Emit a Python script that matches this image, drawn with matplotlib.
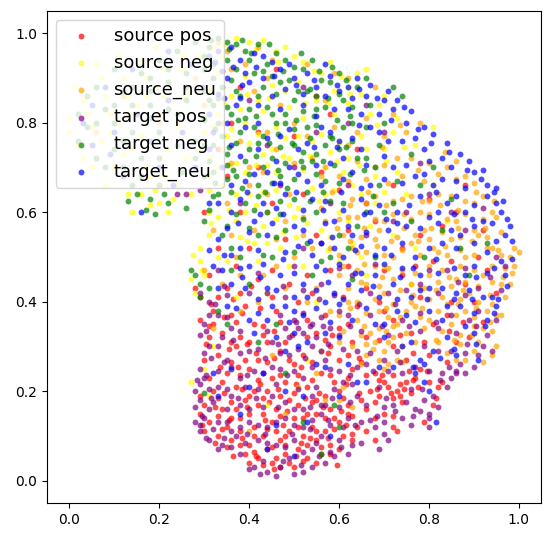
import numpy as np
import matplotlib
matplotlib.use("Agg")
import matplotlib.pyplot as plt

# pontos (coordenadas normalizadas do embedding, 0..1)
source_pos = np.array([
    (0.42,0.05),(0.45,0.04),(0.48,0.06),(0.50,0.03),(0.53,0.05),(0.56,0.06),(0.44,0.07),(0.51,0.07),
    (0.36,0.09),(0.40,0.08),(0.43,0.10),(0.47,0.09),(0.52,0.10),(0.55,0.09),(0.58,0.08),(0.61,0.10),(0.33,0.10),(0.49,0.11),
    (0.31,0.13),(0.35,0.12),(0.38,0.14),(0.41,0.12),(0.45,0.13),(0.50,0.14),(0.54,0.12),(0.57,0.14),(0.60,0.13),(0.64,0.12),(0.43,0.15),
    (0.30,0.17),(0.34,0.16),(0.39,0.18),(0.42,0.17),(0.46,0.16),(0.51,0.17),(0.55,0.18),(0.58,0.16),(0.62,0.17),(0.66,0.16),(0.70,0.15),
    (0.32,0.20),(0.37,0.21),(0.44,0.20),(0.48,0.22),(0.53,0.21),(0.60,0.20),(0.67,0.20),(0.69,0.19),(0.71,0.21),(0.73,0.20),(0.70,0.22),(0.75,0.22),
    (0.35,0.24),(0.40,0.25),(0.45,0.23),(0.50,0.26),(0.56,0.24),(0.63,0.25),(0.68,0.24),(0.78,0.25),(0.82,0.21),
    (0.33,0.28),(0.37,0.30),(0.42,0.27),(0.47,0.29),(0.52,0.28),(0.58,0.30),(0.62,0.28),(0.72,0.30),(0.80,0.28),
    (0.34,0.33),(0.38,0.32),(0.41,0.35),(0.44,0.31),(0.55,0.33),(0.60,0.34),(0.66,0.32),(0.76,0.33),(0.86,0.31),
    (0.32,0.38),(0.36,0.37),(0.39,0.39),(0.46,0.38),(0.51,0.40),(0.57,0.37),(0.64,0.39),(0.70,0.38),(0.84,0.37),(0.90,0.40),
    (0.29,0.41),(0.35,0.43),(0.42,0.45),(0.49,0.44),(0.58,0.47),(0.66,0.43),(0.74,0.46),(0.81,0.49),(0.88,0.44),(0.93,0.47),
    (0.40,0.52),(0.55,0.55),(0.68,0.58),(0.78,0.55),(0.86,0.60),(0.45,0.62),(0.60,0.65),(0.35,0.68),(0.72,0.66),
    (0.42,0.78),(0.58,0.82),(0.38,0.88),(0.30,0.60),
    (0.39,0.06),(0.46,0.11),(0.53,0.15),(0.41,0.20),(0.57,0.11),(0.37,0.16),(0.49,0.18),(0.59,0.22),(0.62,0.15),(0.47,0.03),
    (0.40,0.04),(0.43,0.035),(0.46,0.05),(0.49,0.04),(0.52,0.045),(0.55,0.04),(0.58,0.06),
    (0.35,0.075),(0.38,0.08),(0.41,0.065),(0.45,0.075),(0.48,0.08),(0.53,0.08),(0.56,0.075),(0.60,0.07),(0.63,0.09),
    (0.30,0.11),(0.34,0.115),(0.38,0.11),(0.41,0.10),(0.44,0.115),(0.48,0.10),(0.51,0.12),(0.55,0.11),(0.59,0.115),(0.63,0.105),(0.66,0.11),
    (0.29,0.15),(0.33,0.145),(0.36,0.14),(0.40,0.15),(0.47,0.145),(0.52,0.14),(0.55,0.15),(0.59,0.14),(0.63,0.145),(0.68,0.14),(0.72,0.145),
    (0.29,0.19),(0.33,0.185),(0.36,0.175),(0.40,0.19),(0.43,0.185),(0.47,0.19),(0.50,0.195),(0.54,0.175),(0.57,0.19),(0.61,0.185),
    (0.65,0.18),(0.68,0.175),(0.72,0.185),(0.74,0.175),(0.76,0.195),
    (0.31,0.23),(0.34,0.22),(0.38,0.235),(0.42,0.225),(0.47,0.235),(0.51,0.235),(0.54,0.225),(0.58,0.235),(0.62,0.23),(0.66,0.235),
    (0.69,0.225),(0.72,0.235),(0.77,0.23),(0.80,0.22),
    (0.30,0.27),(0.36,0.265),(0.39,0.27),(0.44,0.265),(0.49,0.27),(0.54,0.265),(0.60,0.27),(0.65,0.265),(0.75,0.27),(0.84,0.265),
    (0.31,0.32),(0.36,0.31),(0.40,0.31),(0.43,0.325),(0.48,0.31),(0.53,0.32),(0.57,0.315),(0.63,0.31),(0.69,0.315),(0.79,0.31),(0.89,0.32),
    (0.32,0.35),(0.37,0.355),(0.43,0.345),(0.47,0.355),(0.53,0.36),(0.62,0.35),(0.72,0.36),(0.81,0.35),(0.92,0.355),
    (0.28,0.43),(0.33,0.41),(0.38,0.42),(0.45,0.41),(0.54,0.42),(0.61,0.41),(0.69,0.40),(0.78,0.41),(0.85,0.40),(0.95,0.42),
    (0.31,0.46),(0.37,0.48),(0.45,0.47),(0.53,0.46),(0.62,0.48),(0.70,0.47),(0.77,0.48),(0.85,0.49),(0.91,0.50),
    (0.33,0.52),(0.48,0.54),(0.62,0.56),(0.74,0.52),(0.83,0.57),(0.92,0.56),(0.38,0.60),(0.52,0.64),(0.66,0.62),(0.80,0.63),
    (0.42,0.70),(0.56,0.69),(0.88,0.66),(0.36,0.80),(0.50,0.77),(0.64,0.74),(0.46,0.92),(0.55,0.86),(0.33,0.74),
    (0.29,0.36),(0.31,0.345),
    (0.415,0.055),(0.455,0.025),(0.505,0.055),(0.535,0.095),(0.575,0.095),(0.615,0.125),(0.385,0.095),(0.355,0.135),(0.325,0.165),
    (0.395,0.165),(0.445,0.175),(0.485,0.155),(0.525,0.185),(0.565,0.165),(0.605,0.155),(0.645,0.195),(0.685,0.205),(0.715,0.195),
    (0.735,0.215),(0.695,0.235),(0.345,0.195),(0.385,0.205),(0.425,0.215),(0.465,0.205),(0.505,0.215),(0.555,0.195),(0.615,0.215),
    (0.335,0.255),(0.375,0.255),(0.415,0.285),(0.455,0.275),(0.515,0.255),(0.575,0.285),(0.645,0.275),(0.355,0.295),(0.395,0.305),
    (0.455,0.335),(0.495,0.325),(0.585,0.325),(0.345,0.365),(0.385,0.375),(0.425,0.385),(0.305,0.305),(0.315,0.395),(0.365,0.405),
    (0.405,0.435),(0.735,0.325),(0.765,0.285),(0.795,0.245),(0.815,0.185),(0.845,0.335),(0.875,0.355),(0.295,0.125),(0.325,0.085),
    (0.365,0.055),(0.435,0.135),(0.475,0.125),(0.515,0.085),(0.595,0.035),
    (0.68,0.09),(0.72,0.12),(0.79,0.13),(0.81,0.17),(0.83,0.22),(0.745,0.205),(0.765,0.225),(0.755,0.245),(0.735,0.19),(0.775,0.21),
    (0.73,0.11),
])

source_neg = np.array([
    (0.34,0.95),(0.40,0.98),(0.46,0.96),(0.50,0.95),(0.36,0.86),(0.42,0.85),(0.48,0.87),(0.56,0.91),(0.62,0.88),(0.66,0.92),
    (0.33,0.82),(0.39,0.80),(0.46,0.79),(0.52,0.81),(0.59,0.82),(0.69,0.84),(0.31,0.72),(0.37,0.71),(0.43,0.73),(0.49,0.72),
    (0.54,0.76),(0.62,0.72),(0.70,0.74),(0.34,0.66),(0.40,0.64),(0.46,0.65),(0.51,0.61),(0.57,0.64),(0.63,0.66),(0.31,0.60),
    (0.37,0.58),(0.43,0.57),(0.50,0.59),(0.56,0.56),(0.60,0.60),(0.68,0.62),(0.75,0.64),(0.29,0.52),(0.33,0.50),(0.41,0.53),
    (0.47,0.52),(0.65,0.50),(0.30,0.46),(0.27,0.45),(0.44,0.42),(0.52,0.48),(0.72,0.55),(0.81,0.79),(0.27,0.22),(0.31,0.19),
    (0.46,0.69),(0.35,0.77),
    (0.32,0.97),(0.37,0.99),(0.43,0.985),(0.48,0.97),(0.52,0.935),(0.58,0.935),(0.64,0.91),(0.33,0.91),(0.39,0.905),(0.45,0.885),
    (0.51,0.89),(0.59,0.87),(0.65,0.865),(0.70,0.86),(0.31,0.875),(0.38,0.83),(0.43,0.825),(0.49,0.835),(0.55,0.85),(0.62,0.845),
    (0.67,0.82),(0.73,0.81),(0.32,0.79),(0.36,0.785),(0.42,0.775),(0.48,0.765),(0.56,0.775),(0.60,0.755),(0.65,0.77),(0.72,0.78),
    (0.77,0.75),(0.34,0.74),(0.40,0.755),(0.45,0.74),(0.51,0.77),(0.58,0.735),(0.66,0.74),(0.33,0.70),(0.39,0.69),(0.44,0.705),
    (0.52,0.695),(0.57,0.70),(0.61,0.69),(0.68,0.68),(0.73,0.69),(0.31,0.65),(0.37,0.64),(0.43,0.645),(0.49,0.615),(0.54,0.655),
    (0.59,0.65),(0.65,0.64),(0.70,0.645),(0.33,0.59),(0.39,0.60),(0.46,0.585),(0.53,0.575),(0.62,0.58),(0.67,0.57),(0.31,0.55),
    (0.38,0.545),(0.44,0.53),(0.58,0.545),(0.63,0.53),(0.29,0.49),(0.35,0.49),(0.42,0.49),(0.28,0.42),(0.37,0.41),(0.49,0.48),
    (0.60,0.49),(0.70,0.48),(0.77,0.52),(0.84,0.58),(0.76,0.44),(0.55,0.40),(0.32,0.30),(0.30,0.25),(0.44,0.17),(0.53,0.27),
    (0.81,0.66),(0.66,0.46),
    (0.345,0.975),(0.415,0.965),(0.465,0.935),(0.545,0.915),(0.605,0.905),(0.625,0.865),(0.575,0.845),(0.525,0.845),(0.445,0.855),
    (0.395,0.865),(0.345,0.845),(0.355,0.705),(0.415,0.705),(0.475,0.725),(0.535,0.725),(0.595,0.715),(0.645,0.705),(0.705,0.715),
    (0.745,0.745),(0.685,0.795),(0.555,0.625),(0.475,0.555),(0.415,0.615),(0.355,0.605),(0.315,0.575),(0.395,0.535),(0.505,0.545),
    (0.575,0.515),(0.275,0.505),(0.295,0.47),
    (0.00,0.78),(0.04,0.82),(0.08,0.86),(0.12,0.90),(0.16,0.94),(0.03,0.72),(0.07,0.76),(0.11,0.80),(0.15,0.84),(0.19,0.88),
    (0.10,0.70),(0.14,0.74),(0.18,0.68),(0.22,0.74),(0.24,0.66),(0.20,0.62),(0.16,0.64),(0.25,0.95),(0.01,0.88),(0.06,0.93),
    (0.27,0.64),
    (0.02,0.75),(0.05,0.79),(0.09,0.82),(0.13,0.86),(0.17,0.90),(0.21,0.92),(0.25,0.92),(0.29,0.95),(0.05,0.70),(0.09,0.78),
    (0.13,0.82),(0.17,0.86),(0.21,0.86),(0.26,0.86),(0.30,0.78),(0.08,0.66),(0.12,0.73),(0.16,0.77),(0.20,0.82),(0.24,0.79),
    (0.29,0.74),(0.13,0.64),(0.17,0.70),(0.21,0.68),(0.26,0.72),(0.14,0.60),(0.18,0.615),(0.22,0.60),(0.19,0.65),(0.23,0.63),
    (0.31,0.68),(0.11,0.95),(0.07,0.90),(0.03,0.85),(0.00,0.81),(0.19,0.97),
])

source_neu = np.array([
    (0.66,0.28),(0.68,0.31),(0.70,0.29),(0.72,0.32),(0.67,0.33),(0.86,0.27),(0.90,0.29),(0.94,0.28),(0.82,0.31),(0.56,0.29),(0.60,0.31),
    (0.64,0.36),(0.69,0.38),(0.73,0.35),(0.77,0.39),(0.80,0.36),(0.85,0.35),(0.88,0.38),(0.92,0.34),(0.95,0.37),(0.58,0.38),(0.62,0.40),
    (0.66,0.44),(0.70,0.42),(0.74,0.47),(0.78,0.43),(0.80,0.46),(0.83,0.41),(0.86,0.45),(0.89,0.42),(0.92,0.46),(0.96,0.44),(0.99,0.48),(0.60,0.46),(0.55,0.43),
    (0.64,0.51),(0.68,0.54),(0.72,0.50),(0.76,0.53),(0.79,0.56),(0.82,0.51),(0.85,0.54),(0.88,0.50),(0.91,0.55),(0.94,0.52),(0.98,0.50),(1.00,0.51),(0.58,0.52),(0.52,0.55),
    (0.62,0.59),(0.66,0.62),(0.70,0.58),(0.74,0.63),(0.78,0.60),(0.82,0.64),(0.86,0.58),(0.90,0.62),(0.94,0.60),(0.56,0.61),(0.48,0.58),(0.44,0.64),
    (0.60,0.68),(0.68,0.70),(0.76,0.72),(0.84,0.70),(0.88,0.68),(0.54,0.72),(0.46,0.74),(0.40,0.70),(0.64,0.78),(0.72,0.82),
    (0.78,0.80),(0.57,0.85),(0.50,0.80),(0.36,0.92),(0.44,0.90),(0.62,0.90),(0.33,0.98),(0.42,0.97),(0.30,0.84),(0.68,0.88),
    (0.42,0.40),(0.38,0.46),(0.46,0.48),(0.34,0.44),(0.51,0.21),(0.30,0.47),(0.36,0.55),
    (0.71,0.26),(0.73,0.27),(0.70,0.25),(0.60,0.18),
    (0.65,0.26),(0.69,0.27),(0.74,0.265),(0.88,0.27),(0.92,0.265),(0.84,0.285),
    (0.63,0.30),(0.66,0.305),(0.71,0.31),(0.74,0.30),(0.77,0.31),(0.87,0.305),(0.91,0.31),(0.95,0.30),
    (0.61,0.335),(0.65,0.325),(0.69,0.34),(0.72,0.345),(0.75,0.33),(0.79,0.34),(0.83,0.335),(0.87,0.325),(0.90,0.345),(0.94,0.335),
    (0.60,0.37),(0.66,0.375),(0.71,0.365),(0.75,0.38),(0.78,0.365),(0.82,0.38),(0.86,0.37),(0.90,0.365),(0.93,0.38),(0.96,0.37),
    (0.64,0.40),(0.68,0.405),(0.72,0.395),(0.76,0.40),(0.80,0.405),(0.84,0.395),(0.87,0.405),(0.91,0.40),(0.94,0.395),(0.97,0.41),
    (0.62,0.43),(0.65,0.445),(0.69,0.435),(0.72,0.45),(0.76,0.44),(0.79,0.43),(0.82,0.445),(0.85,0.435),(0.88,0.445),(0.91,0.435),(0.94,0.445),(0.98,0.44),
    (0.61,0.48),(0.64,0.47),(0.68,0.48),(0.71,0.475),(0.77,0.465),(0.80,0.48),(0.83,0.47),(0.87,0.48),(0.90,0.47),(0.94,0.48),(0.97,0.475),
    (0.60,0.505),(0.63,0.52),(0.66,0.51),(0.70,0.505),(0.74,0.515),(0.78,0.505),(0.81,0.52),(0.84,0.505),(0.87,0.515),(0.90,0.505),(0.93,0.52),(0.96,0.505),(0.99,0.52),
    (0.61,0.55),(0.65,0.545),(0.69,0.56),(0.73,0.545),(0.77,0.55),(0.80,0.54),(0.83,0.555),(0.87,0.545),(0.90,0.56),(0.93,0.545),(0.96,0.555),
    (0.60,0.585),(0.64,0.59),(0.68,0.585),(0.72,0.595),(0.76,0.585),(0.80,0.595),(0.84,0.585),(0.88,0.595),(0.92,0.585),(0.95,0.59),
    (0.63,0.63),(0.68,0.635),(0.72,0.625),(0.76,0.635),(0.80,0.625),(0.85,0.635),(0.88,0.625),(0.92,0.635),
    (0.62,0.67),(0.66,0.675),(0.71,0.665),(0.74,0.68),(0.79,0.67),(0.82,0.685),(0.86,0.675),(0.90,0.665),
    (0.57,0.70),(0.64,0.715),(0.70,0.705),(0.73,0.72),(0.80,0.71),(0.86,0.715),
    (0.50,0.50),(0.54,0.52),(0.46,0.54),(0.41,0.56),(0.44,0.60),(0.52,0.59),(0.57,0.58),(0.49,0.64),(0.40,0.66),(0.35,0.62),
    (0.32,0.56),(0.37,0.50),(0.43,0.46),(0.48,0.43),(0.53,0.40),(0.38,0.38),(0.32,0.34),(0.45,0.28),(0.55,0.24),(0.61,0.21),
    (0.57,0.18),(0.63,0.165),(0.48,0.15),(0.40,0.11),
    (0.35,0.96),(0.39,0.93),(0.45,0.94),(0.53,0.93),(0.59,0.91),(0.47,0.84),(0.41,0.87),(0.34,0.80),(0.38,0.76),(0.44,0.78),
    (0.53,0.77),(0.59,0.79),(0.66,0.81),(0.70,0.77),(0.75,0.78),(0.62,0.75),(0.56,0.68),(0.50,0.71),(0.43,0.69),(0.36,0.71),
    (0.675,0.295),(0.705,0.335),(0.735,0.365),(0.765,0.415),(0.815,0.425),(0.845,0.455),(0.875,0.425),(0.905,0.385),(0.935,0.415),
    (0.965,0.455),(0.985,0.465),(0.955,0.515),(0.925,0.565),(0.895,0.535),(0.865,0.565),(0.835,0.525),(0.805,0.565),(0.775,0.535),
    (0.745,0.565),(0.715,0.535),(0.685,0.525),(0.655,0.565),(0.625,0.535),(0.595,0.565),(0.655,0.485),(0.695,0.455),(0.735,0.425),
    (0.625,0.385),(0.655,0.345),(0.705,0.385),(0.785,0.385),(0.815,0.315),(0.855,0.315),(0.895,0.325),(0.935,0.355),(0.865,0.395),
    (0.745,0.595),(0.785,0.625),(0.825,0.615),(0.865,0.605),(0.905,0.645),(0.945,0.625),(0.705,0.615),(0.665,0.645),(0.625,0.615),
    (0.585,0.645),(0.775,0.695),(0.835,0.735),(0.695,0.745),(0.735,0.795),
    (0.12,0.86),(0.20,0.80),(0.28,0.90),(0.06,0.78),
])

target_pos = np.array([
    (0.46,0.01),(0.41,0.03),(0.44,0.02),(0.52,0.02),(0.57,0.04),(0.49,0.05),(0.38,0.06),(0.54,0.07),
    (0.31,0.09),(0.34,0.08),(0.37,0.10),(0.42,0.09),(0.46,0.08),(0.50,0.09),(0.56,0.10),(0.60,0.09),(0.63,0.08),(0.29,0.11),
    (0.30,0.14),(0.33,0.13),(0.36,0.11),(0.40,0.13),(0.44,0.12),(0.48,0.14),(0.52,0.12),(0.56,0.15),(0.62,0.14),(0.65,0.13),(0.68,0.12),(0.28,0.13),
    (0.29,0.18),(0.31,0.16),(0.36,0.19),(0.40,0.16),(0.45,0.19),(0.50,0.16),(0.54,0.19),(0.57,0.17),(0.64,0.19),(0.72,0.17),(0.77,0.16),(0.80,0.15),(0.28,0.20),(0.33,0.21),
    (0.30,0.23),(0.38,0.23),(0.43,0.24),(0.47,0.25),(0.52,0.23),(0.58,0.25),(0.61,0.22),(0.66,0.26),(0.74,0.24),(0.83,0.24),(0.87,0.26),
    (0.31,0.30),(0.35,0.27),(0.40,0.29),(0.45,0.31),(0.49,0.28),(0.54,0.30),(0.57,0.27),(0.64,0.29),(0.70,0.27),(0.79,0.30),(0.85,0.29),(0.92,0.30),
    (0.30,0.35),(0.33,0.37),(0.36,0.34),(0.48,0.34),(0.50,0.36),(0.52,0.33),(0.54,0.35),(0.58,0.34),(0.62,0.37),(0.74,0.36),(0.82,0.34),(0.89,0.36),
    (0.31,0.40),(0.40,0.42),(0.48,0.41),(0.56,0.44),(0.63,0.46),(0.71,0.42),(0.78,0.44),(0.84,0.47),(0.91,0.43),(0.95,0.50),
    (0.52,0.52),(0.66,0.55),(0.75,0.60),(0.88,0.56),(0.58,0.62),(0.47,0.66),(0.26,0.64),(0.29,0.65),(0.80,0.64),
    (0.44,0.75),(0.62,0.80),(0.52,0.88),(0.70,0.78),
    (0.40,0.025),(0.43,0.045),(0.47,0.03),(0.50,0.015),(0.54,0.03),(0.59,0.055),(0.62,0.06),
    (0.33,0.07),(0.36,0.075),(0.39,0.085),(0.44,0.085),(0.48,0.075),(0.52,0.065),(0.55,0.085),(0.58,0.065),(0.65,0.085),
    (0.29,0.125),(0.32,0.115),(0.35,0.13),(0.38,0.12),(0.42,0.125),(0.46,0.13),(0.50,0.125),(0.54,0.135),(0.58,0.125),(0.61,0.12),
    (0.67,0.135),(0.70,0.13),(0.74,0.14),
    (0.28,0.165),(0.32,0.175),(0.35,0.16),(0.38,0.17),(0.43,0.165),(0.48,0.175),(0.52,0.16),(0.56,0.17),(0.60,0.165),(0.66,0.17),
    (0.70,0.165),(0.75,0.175),(0.79,0.18),(0.82,0.165),
    (0.29,0.215),(0.31,0.205),(0.35,0.205),(0.39,0.21),(0.42,0.205),(0.46,0.215),(0.51,0.205),(0.55,0.21),(0.59,0.205),(0.63,0.215),
    (0.69,0.21),(0.76,0.205),(0.81,0.19),(0.84,0.21),
    (0.29,0.25),(0.33,0.245),(0.36,0.255),(0.41,0.245),(0.45,0.255),(0.50,0.245),(0.54,0.255),(0.60,0.245),(0.64,0.255),(0.71,0.245),
    (0.77,0.255),(0.80,0.245),(0.86,0.24),(0.90,0.255),
    (0.30,0.285),(0.33,0.30),(0.38,0.285),(0.42,0.295),(0.47,0.285),(0.51,0.295),(0.56,0.29),(0.61,0.295),(0.67,0.285),(0.73,0.29),
    (0.82,0.29),(0.88,0.285),(0.94,0.29),
    (0.29,0.325),(0.34,0.32),(0.38,0.335),(0.44,0.335),(0.49,0.32),(0.51,0.34),(0.55,0.32),(0.60,0.325),(0.65,0.335),(0.71,0.325),
    (0.78,0.335),(0.86,0.33),(0.93,0.325),
    (0.31,0.37),(0.35,0.365),(0.47,0.37),(0.52,0.375),(0.56,0.365),(0.60,0.38),(0.67,0.37),(0.78,0.375),(0.85,0.37),(0.91,0.38),(0.95,0.36),
    (0.29,0.42),(0.35,0.415),(0.44,0.42),(0.52,0.425),(0.59,0.415),(0.67,0.42),(0.75,0.425),(0.82,0.42),(0.88,0.415),(0.96,0.425),
    (0.33,0.47),(0.42,0.465),(0.50,0.48),(0.60,0.475),(0.68,0.485),(0.80,0.47),(0.88,0.475),(0.97,0.48),
    (0.56,0.53),(0.72,0.58),(0.85,0.60),(0.92,0.61),(0.62,0.66),(0.38,0.62),(0.50,0.70),(0.78,0.71),(0.55,0.78),(0.40,0.85),
    (0.66,0.84),(0.24,0.64),
    (0.425,0.015),(0.475,0.045),(0.515,0.035),(0.555,0.055),(0.605,0.075),(0.305,0.095),(0.345,0.095),(0.395,0.105),(0.435,0.105),
    (0.495,0.105),(0.535,0.115),(0.575,0.135),(0.635,0.125),(0.685,0.145),(0.725,0.155),(0.765,0.145),(0.295,0.145),(0.315,0.185),
    (0.375,0.185),(0.415,0.185),(0.465,0.165),(0.535,0.165),(0.585,0.185),(0.625,0.175),(0.705,0.185),(0.785,0.205),(0.825,0.225),
    (0.305,0.235),(0.345,0.265),(0.395,0.235),(0.435,0.275),(0.485,0.235),(0.525,0.275),(0.625,0.235),(0.675,0.245),(0.735,0.265),
    (0.845,0.255),(0.885,0.305),(0.315,0.275),(0.365,0.315),(0.465,0.305),(0.505,0.355),(0.535,0.345),(0.565,0.345),(0.575,0.305),
    (0.625,0.345),(0.695,0.345),(0.755,0.345),(0.815,0.355),(0.905,0.345),(0.325,0.395),(0.345,0.435),(0.475,0.435),(0.555,0.405),
    (0.645,0.395),(0.725,0.395),(0.865,0.445),(0.935,0.455),(0.285,0.225),(0.305,0.335),
    (0.70,0.105),(0.76,0.125),(0.80,0.14),(0.78,0.155),(0.85,0.23),(0.88,0.24),(0.91,0.28),(0.71,0.09),(0.80,0.12),(0.86,0.245),
    (0.69,0.07),
])

target_neg = np.array([
    (0.31,0.97),(0.35,0.98),(0.39,0.96),(0.44,0.93),(0.32,0.93),(0.37,0.92),(0.41,0.91),(0.48,0.94),(0.52,0.92),(0.34,0.88),
    (0.38,0.86),(0.43,0.88),(0.47,0.89),(0.53,0.87),(0.58,0.89),(0.31,0.85),(0.36,0.82),(0.40,0.83),(0.45,0.82),(0.50,0.85),
    (0.55,0.83),(0.61,0.85),(0.33,0.80),(0.38,0.78),(0.43,0.77),(0.48,0.80),(0.53,0.79),(0.58,0.77),(0.63,0.80),(0.30,0.75),
    (0.35,0.73),(0.40,0.74),(0.45,0.72),(0.50,0.75),(0.55,0.73),(0.60,0.74),(0.32,0.69),(0.37,0.68),(0.42,0.66),(0.47,0.68),
    (0.52,0.70),(0.57,0.67),(0.33,0.64),(0.39,0.62),(0.44,0.60),(0.50,0.63),(0.55,0.60),(0.61,0.62),(0.30,0.58),(0.35,0.57),
    (0.42,0.55),(0.48,0.56),(0.53,0.53),(0.66,0.72),(0.69,0.66),(0.72,0.88),(0.64,0.57),(0.58,0.50),(0.45,0.50),(0.38,0.50),
    (0.28,0.46),(0.70,0.60),(0.78,0.66),(0.62,0.52),(0.54,0.46),(0.36,0.47),(0.33,0.38),(0.46,0.35),(0.52,0.13),(0.59,0.17),
    (0.22,0.62),(0.18,0.63),(0.26,0.61),
    (0.33,0.99),(0.37,0.975),(0.42,0.975),(0.46,0.955),(0.30,0.95),(0.35,0.94),(0.40,0.94),(0.43,0.915),(0.50,0.925),(0.54,0.94),
    (0.32,0.90),(0.36,0.895),(0.45,0.905),(0.49,0.895),(0.56,0.895),(0.60,0.91),(0.64,0.88),(0.30,0.87),(0.33,0.855),(0.37,0.87),
    (0.42,0.86),(0.46,0.865),(0.51,0.87),(0.55,0.86),(0.60,0.865),(0.35,0.835),(0.39,0.81),(0.44,0.835),(0.48,0.82),(0.52,0.825),
    (0.57,0.835),(0.63,0.835),(0.67,0.84),(0.30,0.805),(0.34,0.77),(0.41,0.79),(0.46,0.80),(0.50,0.785),(0.55,0.795),(0.61,0.79),
    (0.66,0.79),(0.32,0.75),(0.37,0.755),(0.42,0.755),(0.47,0.745),(0.52,0.735),(0.57,0.75),(0.63,0.76),(0.69,0.75),(0.31,0.715),
    (0.35,0.705),(0.39,0.715),(0.43,0.70),(0.48,0.71),(0.54,0.715),(0.59,0.705),(0.64,0.72),(0.30,0.68),(0.35,0.675),(0.40,0.685),
    (0.45,0.665),(0.50,0.675),(0.55,0.685),(0.60,0.665),(0.32,0.635),(0.36,0.645),(0.42,0.635),(0.47,0.625),(0.53,0.645),(0.58,0.625),
    (0.31,0.605),(0.37,0.595),(0.41,0.605),(0.47,0.595),(0.52,0.585),(0.34,0.55),(0.40,0.565),(0.46,0.545),(0.36,0.52),(0.43,0.505),
    (0.68,0.70),(0.73,0.67),(0.76,0.73),(0.81,0.70),(0.72,0.62),(0.66,0.60),(0.76,0.58),(0.83,0.56),(0.60,0.55),(0.68,0.50),
    (0.87,0.52),(0.70,0.80),(0.74,0.86),(0.66,0.90),(0.50,0.51),(0.56,0.49),(0.63,0.45),(0.40,0.44),(0.31,0.43),(0.29,0.41),
    (0.35,0.35),(0.42,0.31),(0.48,0.24),(0.30,0.195),(0.56,0.06),(0.60,0.12),(0.89,0.46),(0.93,0.53),(0.79,0.50),(0.85,0.63),
    (0.27,0.47),(0.29,0.44),
    (0.315,0.985),(0.355,0.965),(0.385,0.985),(0.405,0.955),(0.445,0.975),(0.475,0.915),(0.515,0.955),(0.555,0.915),(0.585,0.925),
    (0.615,0.895),(0.535,0.875),(0.575,0.855),(0.625,0.815),(0.595,0.805),(0.545,0.815),(0.505,0.805),(0.465,0.775),(0.415,0.815),
    (0.375,0.805),(0.325,0.785),(0.355,0.745),(0.445,0.755),(0.495,0.755),(0.535,0.765),(0.585,0.765),(0.615,0.745),(0.565,0.715),
    (0.515,0.715),(0.465,0.695),(0.415,0.725),(0.365,0.695),(0.325,0.665),(0.385,0.655),(0.435,0.645),(0.485,0.655),(0.535,0.625),
    (0.565,0.645),(0.625,0.685),(0.655,0.695),(0.675,0.635),
    (0.02,0.76),(0.06,0.80),(0.10,0.84),(0.14,0.88),(0.18,0.90),(0.22,0.92),(0.12,0.76),(0.16,0.72),(0.20,0.78),(0.24,0.82),
    (0.08,0.70),(0.04,0.86),(0.26,0.88),(0.14,0.66),(0.18,0.84),(0.28,0.76),
    (0.04,0.79),(0.08,0.83),(0.12,0.87),(0.16,0.91),(0.20,0.94),(0.24,0.96),(0.28,0.98),(0.10,0.80),(0.14,0.84),(0.18,0.87),
    (0.22,0.89),(0.26,0.91),(0.30,0.92),(0.06,0.72),(0.10,0.74),(0.14,0.78),(0.18,0.81),(0.22,0.83),(0.26,0.85),(0.30,0.81),
    (0.12,0.70),(0.16,0.68),(0.20,0.72),(0.24,0.75),(0.28,0.72),(0.20,0.66),(0.25,0.69),(0.13,0.625),(0.17,0.605),(0.21,0.64),
    (0.15,0.64),(0.19,0.595),(0.02,0.82),(0.06,0.88),(0.10,0.92),(0.32,0.84),
])

target_neu = np.array([
    (0.33,0.96),(0.38,0.94),(0.43,0.95),(0.47,0.92),(0.35,0.90),(0.40,0.89),(0.50,0.90),(0.55,0.88),(0.60,0.87),(0.66,0.86),
    (0.70,0.85),(0.64,0.90),(0.57,0.93),(0.45,0.86),(0.37,0.84),(0.52,0.84),(0.62,0.83),(0.72,0.83),(0.75,0.80),
    (0.32,0.78),(0.36,0.75),(0.42,0.80),(0.47,0.77),(0.51,0.74),(0.56,0.79),(0.60,0.76),(0.65,0.74),(0.69,0.78),(0.74,0.76),
    (0.79,0.74),(0.83,0.72),(0.87,0.73),(0.34,0.70),(0.39,0.67),(0.44,0.69),(0.49,0.70),(0.53,0.67),(0.58,0.71),(0.63,0.69),
    (0.67,0.66),(0.72,0.70),(0.77,0.68),(0.81,0.66),(0.86,0.67),(0.90,0.69),(0.93,0.66),
    (0.31,0.62),(0.36,0.60),(0.41,0.58),(0.46,0.61),(0.50,0.57),(0.54,0.63),(0.59,0.58),(0.63,0.55),(0.67,0.60),(0.71,0.56),
    (0.75,0.57),(0.80,0.59),(0.84,0.62),(0.88,0.60),(0.92,0.58),(0.95,0.62),(0.33,0.54),(0.38,0.52),(0.44,0.55),(0.48,0.51),
    (0.56,0.53),(0.61,0.50),(0.70,0.52),(0.77,0.50),(0.83,0.53),(0.87,0.55),(0.93,0.51),(0.97,0.55),
    (0.32,0.48),(0.36,0.44),(0.40,0.48),(0.44,0.43),(0.47,0.46),(0.52,0.44),(0.55,0.48),(0.59,0.42),(0.62,0.44),(0.68,0.46),
    (0.72,0.44),(0.76,0.41),(0.80,0.43),(0.86,0.42),(0.90,0.48),(0.94,0.41),(0.97,0.46),(0.45,0.39),(0.50,0.38),(0.53,0.41),
    (0.57,0.40),(0.63,0.36),(0.70,0.35),(0.75,0.37),(0.87,0.39),(0.93,0.36),(0.40,0.36),(0.35,0.39),
    (0.46,0.32),(0.51,0.30),(0.55,0.26),(0.74,0.30),(0.78,0.27),(0.84,0.32),(0.90,0.33),(0.48,0.20),(0.40,0.21),(0.53,0.13),
    (0.44,0.07),(0.60,0.19),(0.66,0.22),(0.32,0.24),(0.57,0.33),
    (0.10,0.78),(0.15,0.82),(0.05,0.75),(0.20,0.70),(0.22,0.85),(0.08,0.88),(0.27,0.93),
    (0.31,0.95),(0.36,0.97),(0.41,0.955),(0.45,0.935),(0.49,0.93),(0.53,0.91),(0.58,0.905),(0.62,0.88),(0.67,0.885),(0.71,0.87),
    (0.34,0.915),(0.39,0.91),(0.43,0.90),(0.48,0.875),(0.52,0.865),(0.57,0.86),(0.63,0.855),(0.69,0.82),(0.73,0.85),(0.76,0.825),
    (0.79,0.79),(0.33,0.865),(0.38,0.855),(0.42,0.84),(0.47,0.83),(0.55,0.815),(0.59,0.83),(0.65,0.82),(0.31,0.82),(0.35,0.80),
    (0.39,0.79),(0.44,0.765),(0.49,0.785),(0.53,0.755),(0.58,0.78),(0.63,0.765),(0.67,0.79),(0.71,0.76),(0.77,0.765),(0.81,0.775),
    (0.84,0.755),(0.31,0.74),(0.38,0.725),(0.42,0.74),(0.46,0.715),(0.55,0.705),(0.61,0.72),(0.66,0.705),(0.70,0.725),(0.75,0.705),
    (0.80,0.715),(0.85,0.70),(0.89,0.715),(0.92,0.695),(0.36,0.66),(0.41,0.685),(0.47,0.665),(0.51,0.685),(0.56,0.66),(0.61,0.675),
    (0.65,0.655),(0.70,0.675),(0.74,0.665),(0.79,0.685),(0.83,0.675),(0.88,0.655),(0.95,0.655),
    (0.33,0.62),(0.38,0.63),(0.43,0.62),(0.48,0.64),(0.52,0.605),(0.57,0.625),(0.61,0.605),(0.65,0.63),(0.69,0.615),(0.73,0.60),
    (0.78,0.635),(0.82,0.60),(0.86,0.635),(0.90,0.615),(0.93,0.635),(0.96,0.60),(0.35,0.565),(0.40,0.555),(0.45,0.575),(0.52,0.56),
    (0.57,0.575),(0.62,0.57),(0.66,0.555),(0.73,0.575),(0.78,0.565),(0.82,0.575),(0.85,0.56),(0.90,0.57),(0.94,0.575),(0.98,0.57),
    (0.31,0.515),(0.36,0.505),(0.42,0.515),(0.51,0.525),(0.54,0.505),(0.59,0.52),(0.65,0.525),(0.68,0.505),(0.74,0.53),(0.80,0.52),
    (0.86,0.52),(0.90,0.53),(0.95,0.535),
    (0.34,0.47),(0.38,0.475),(0.43,0.485),(0.50,0.465),(0.57,0.47),(0.60,0.485),(0.65,0.465),(0.70,0.485),(0.74,0.475),(0.78,0.46),
    (0.82,0.465),(0.88,0.46),(0.93,0.465),(0.96,0.49),(0.33,0.43),(0.39,0.43),(0.42,0.405),(0.46,0.425),(0.50,0.41),(0.55,0.425),
    (0.61,0.405),(0.65,0.425),(0.69,0.41),(0.73,0.405),(0.78,0.425),(0.83,0.43),(0.89,0.425),(0.92,0.41),(0.37,0.385),(0.42,0.375),
    (0.48,0.39),(0.52,0.37),(0.55,0.385),(0.60,0.395),(0.66,0.385),(0.73,0.38),(0.80,0.38),(0.84,0.39),(0.90,0.375),(0.95,0.39),
    (0.44,0.36),(0.49,0.355),(0.58,0.355),(0.68,0.35),(0.77,0.355),(0.83,0.36),(0.88,0.345),
    (0.41,0.33),(0.50,0.33),(0.53,0.31),(0.60,0.32),(0.70,0.32),(0.76,0.31),(0.81,0.29),(0.86,0.28),(0.91,0.27),(0.48,0.29),
    (0.57,0.255),(0.62,0.26),(0.69,0.255),(0.36,0.25),(0.43,0.24),(0.52,0.19),(0.38,0.15),(0.46,0.125),(0.58,0.10),(0.50,0.055),
    (0.64,0.22),(0.72,0.255),(0.79,0.22),(0.33,0.19),
    (0.325,0.935),(0.365,0.925),(0.415,0.925),(0.455,0.905),(0.505,0.885),(0.545,0.895),(0.595,0.885),(0.645,0.875),(0.685,0.855),
    (0.715,0.805),(0.745,0.835),(0.775,0.785),(0.805,0.755),(0.845,0.735),(0.885,0.695),(0.915,0.675),(0.945,0.645),(0.965,0.625),
    (0.975,0.585),(0.985,0.535),(0.985,0.495),(0.975,0.435),(0.955,0.405),(0.945,0.375),(0.925,0.345),(0.905,0.305),(0.855,0.295),
    (0.825,0.275),(0.765,0.255),
    (0.565,0.605),(0.605,0.645),(0.655,0.595),(0.705,0.585),(0.755,0.615),(0.815,0.645),(0.855,0.595),(0.895,0.585),(0.535,0.535),
    (0.585,0.545),(0.635,0.515),(0.715,0.505),(0.765,0.475),(0.815,0.495),(0.855,0.475),(0.905,0.455),(0.945,0.475),(0.575,0.445),
    (0.635,0.465),(0.675,0.435),(0.735,0.455),(0.795,0.405),(0.855,0.405),(0.895,0.405),(0.475,0.495),(0.425,0.455),(0.385,0.455),
    (0.345,0.505),(0.375,0.575),(0.425,0.595),(0.475,0.595),(0.505,0.645),(0.395,0.645),(0.455,0.665),(0.545,0.745),(0.595,0.745),
    (0.645,0.795),(0.345,0.855),(0.385,0.885),
    (0.815,0.13),(0.80,0.20),(0.77,0.24),(0.79,0.26),
    (0.14,0.92),(0.18,0.76),(0.25,0.78),(0.12,0.68),(0.03,0.80),(0.28,0.70),(0.22,0.96),(0.30,0.88),(0.16,0.60),(0.23,0.66),
    (0.05,0.84),(0.09,0.73),
])

labels = ["source pos", "source neg", "source_neu", "target pos", "target neg", "target_neu"]
cores = ["red", "yellow", "orange", "purple", "green", "blue"]
grupos = [source_pos, source_neg, source_neu, target_pos, target_neg, target_neu]

fig = plt.figure(figsize=(5.5, 5.38), dpi=100)
ax = fig.add_axes([0.085, 0.065, 0.899, 0.915])

for pts, cor, nome in zip(grupos, cores, labels):
    ax.scatter(pts[:, 0], pts[:, 1], s=18, c=cor, alpha=0.7, linewidths=0, label=nome)

ax.set_xlim(-0.05, 1.05)
ax.set_ylim(-0.05, 1.05)
ax.set_xticks([0.0, 0.2, 0.4, 0.6, 0.8, 1.0])
ax.set_yticks([0.0, 0.2, 0.4, 0.6, 0.8, 1.0])
ax.legend(loc="upper left", fontsize=13)

fig.savefig("out.png", dpi=100)
